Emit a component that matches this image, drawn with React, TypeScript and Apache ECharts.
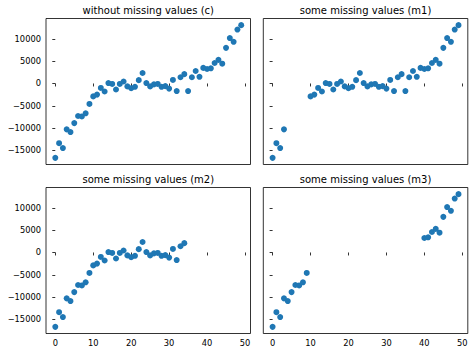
import React, { useEffect, useRef } from "react";
import * as echarts from "echarts";

const titles = [
  "without missing values (c)",
  "some missing values (m1)",
  "some missing values (m2)",
  "some missing values (m3)",
];

const valuesC: (number | null)[] = [
  -16700, -13400, -14500, -10300, -10900, -8900, -7300, -7400, -6700, -4600,
  -2900, -2500, -1000, -1800, 100, -100, -1350, -100, 450, -650,
  -1050, -750, 750, 2350, 100, -650, -200, -100, -750, -600,
  -1150, 800, -1700, 1400, 2100, -1700, 1400, 2800, 1500, 3500,
  3250, 3400, 4600, 5300, 4450, 8000, 10200, 9350, 12100, 13100,
];

const valuesM1: (number | null)[] = [
  -16700, -13400, -14500, -10300, null, null, null, null, null, null,
  -2900, -2500, -1000, -1800, 100, -100, -1350, -100, 450, -650,
  -1050, -750, 750, 2350, 100, -650, -200, -100, -750, -600,
  -1150, 800, -1700, 1400, 2100, -1700, 1400, 2800, 1500, 3500,
  3250, 3400, 4600, 5300, 4450, 8000, 10200, 9350, 12100, 13100,
];

const valuesM2: (number | null)[] = [
  -16700, -13400, -14500, -10300, -10900, -8900, -7300, -7400, -6700, -4600,
  -2900, -2500, -1000, -1800, 100, -100, -1350, -100, 450, -650,
  -1050, -750, 750, 2350, 100, -650, -200, -100, -750, -600,
  -1150, 800, -1700, 1400, 2100, null, null, null, null, null,
  null, null, null, null, null, null, null, null, null, null,
];

const valuesM3: (number | null)[] = [
  -16700, -13400, -14500, -10300, -10900, -8900, -7300, -7400, -6700, -4600,
  null, null, null, null, null, null, null, null, null, null,
  null, null, null, null, null, null, null, null, null, null,
  null, null, null, null, null, null, null, null, null, null,
  3250, 3400, 4600, 5300, 4450, 8000, 10200, 9350, 12100, 13100,
];

const xTicks = [0, 10, 20, 30, 40, 50];
const yTicks = [-15000, -10000, -5000, 0, 5000, 10000];

const allSeries = [valuesC, valuesM1, valuesM2, valuesM3];

export default function App() {
  const ref = useRef<HTMLDivElement>(null);
  useEffect(() => {
    if (!ref.current) return;
    const chart = echarts.init(ref.current, null, { renderer: "svg" });

    const nums = valuesC.filter((v) => v !== null) as number[];
    const yMinD = Math.min(...nums);
    const yMaxD = Math.max(...nums);
    const yPad = (yMaxD - yMinD) * 0.05;
    const xMinD = 0;
    const xMaxD = valuesC.length - 1;
    const xPad = (xMaxD - xMinD) * 0.05;

    const lefts = [46, 263.3, 46, 263.3];
    const tops = [18.5, 18.5, 187.5, 187.5];
    const W = 204.5;
    const H = 146;
    const font = "'DejaVu Sans', sans-serif";
    const fmt = (v: number) => String(v).replace("-", "\u2212");

    const grids = lefts.map((l, k) => ({
      left: l,
      top: tops[k],
      width: W,
      height: H,
      show: true,
      borderColor: "#000",
      borderWidth: 0.8,
      backgroundColor: "transparent",
      containLabel: false,
    }));

    const xAxes = lefts.map((_, k) => ({
      type: "value",
      gridIndex: k,
      min: xMinD - xPad,
      max: xMaxD + xPad,
      splitLine: { show: false },
      axisLine: { show: false },
      axisTick: {
        show: true,
        length: 3,
        customValues: xTicks,
        lineStyle: { color: "#000", width: 0.8 },
      },
      axisLabel: {
        show: k >= 2,
        customValues: xTicks,
        margin: 5,
        fontSize: 8.3,
        color: "#000",
        fontFamily: font,
        formatter: fmt,
      },
    }));

    const yAxes = lefts.map((_, k) => ({
      type: "value",
      gridIndex: k,
      min: yMinD - yPad,
      max: yMaxD + yPad,
      splitLine: { show: false },
      axisLine: { show: false },
      axisTick: {
        show: true,
        length: 3,
        customValues: yTicks,
        lineStyle: { color: "#000", width: 0.8 },
      },
      axisLabel: {
        show: k % 2 === 0,
        customValues: yTicks,
        margin: 5,
        fontSize: 8.3,
        color: "#000",
        fontFamily: font,
        formatter: fmt,
      },
    }));

    const series = allSeries.map((vals, k) => ({
      type: "scatter",
      xAxisIndex: k,
      yAxisIndex: k,
      symbolSize: 6,
      itemStyle: { color: "#1f77b4", opacity: 1 },
      data: vals
        .map((v, i) => (v === null ? null : [i, v]))
        .filter((d) => d !== null),
    }));

    const graphic = titles.map((t, k) => ({
      type: "text",
      x: lefts[k] + W / 2,
      y: tops[k] - 8.5,
      style: {
        text: t,
        fill: "#000",
        font: `10px ${font}`,
        align: "center",
        verticalAlign: "middle",
      },
    }));

    chart.setOption({
      animation: false,
      grid: grids,
      xAxis: xAxes,
      yAxis: yAxes,
      series,
      graphic,
    } as any);

    return () => chart.dispose();
  }, []);

  return (
    <div
      ref={ref}
      style={{ position: "absolute", left: 0, top: 0, width: 474, height: 354, background: "#fff" }}
    />
  );
}
